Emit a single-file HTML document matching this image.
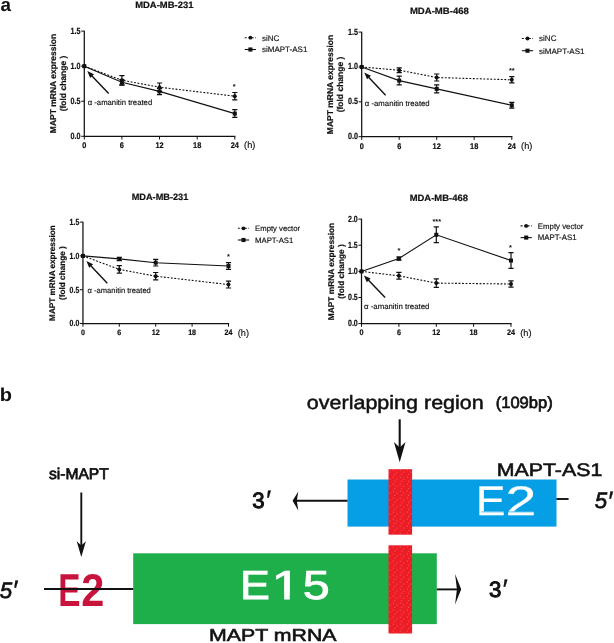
<!DOCTYPE html>
<html><head><meta charset="utf-8"><title>MAPT-AS1 figure</title>
<style>
html,body{margin:0;padding:0;background:#fff;}
body{width:614px;height:643px;overflow:hidden;font-family:"Liberation Sans",sans-serif;}
svg{display:block}
text{font-family:"Liberation Sans",sans-serif;fill:#111;text-rendering:geometricPrecision}
.tk{font-size:7.7px;font-weight:bold;stroke:#111;stroke-width:0.2px}
.tt{font-size:9.2px;font-weight:bold;stroke:#111;stroke-width:0.2px}
.yl{font-size:8.5px;font-weight:bold;stroke:#111;stroke-width:0.2px}
.lg{font-size:7.8px;stroke:#111;stroke-width:0.15px}
.st{font-size:7.4px;font-weight:bold}
.sb{stroke:#111;stroke-width:0.7px}
.rb{stroke:#111;stroke-width:0.35px}
</style></head><body>
<svg width="614" height="643" viewBox="0 0 614 643">
<defs>
<pattern id="dots" patternUnits="userSpaceOnUse" width="7" height="7"><rect x="0.8" y="0.6" width="1" height="1" fill="#d7a3b0" opacity="0.55"/><rect x="4.3" y="2.6" width="1" height="1" fill="#d7a3b0" opacity="0.55"/><rect x="2.2" y="4.9" width="1" height="1" fill="#d7a3b0" opacity="0.55"/></pattern>
</defs>
<rect width="614" height="643" fill="#fff"/>

<text x="0.6" y="10.6" style="font-size:18.8px;font-weight:bold">a</text>
<text x="-0.3" y="401.2" textLength="12.2" lengthAdjust="spacingAndGlyphs" style="font-size:18.6px;font-weight:bold">b</text>
<path d="M84.3 30.700000000000003V136.3H235.4" fill="none" stroke="#111" stroke-width="1.25"/>
<path d="M81.20 136.30H84.3" stroke="#111" stroke-width="1"/>
<text x="70.61" y="138.70" textLength="9.99" lengthAdjust="spacingAndGlyphs" class="tk" style="font-size:9.10px">0.0</text>
<path d="M81.20 101.23H84.3" stroke="#111" stroke-width="1"/>
<text x="70.61" y="103.63" textLength="9.99" lengthAdjust="spacingAndGlyphs" class="tk" style="font-size:9.10px">0.5</text>
<path d="M81.20 66.17H84.3" stroke="#111" stroke-width="1"/>
<text x="70.61" y="68.57" textLength="9.99" lengthAdjust="spacingAndGlyphs" class="tk" style="font-size:9.10px">1.0</text>
<path d="M81.20 31.10H84.3" stroke="#111" stroke-width="1"/>
<text x="70.61" y="33.50" textLength="9.99" lengthAdjust="spacingAndGlyphs" class="tk" style="font-size:9.10px">1.5</text>
<path d="M84.3 136.3V139.50" stroke="#111" stroke-width="1"/>
<text x="82.25" y="148.10" textLength="4.10" lengthAdjust="spacingAndGlyphs" class="tk" style="font-size:8.20px">0</text>
<path d="M121.9 136.3V139.50" stroke="#111" stroke-width="1"/>
<text x="119.85" y="148.10" textLength="4.10" lengthAdjust="spacingAndGlyphs" class="tk" style="font-size:8.20px">6</text>
<path d="M159.5 136.3V139.50" stroke="#111" stroke-width="1"/>
<text x="155.40" y="148.10" textLength="8.21" lengthAdjust="spacingAndGlyphs" class="tk" style="font-size:8.20px">12</text>
<path d="M197.2 136.3V139.50" stroke="#111" stroke-width="1"/>
<text x="193.10" y="148.10" textLength="8.21" lengthAdjust="spacingAndGlyphs" class="tk" style="font-size:8.20px">18</text>
<path d="M234.8 136.3V139.50" stroke="#111" stroke-width="1"/>
<text x="230.70" y="148.10" textLength="8.21" lengthAdjust="spacingAndGlyphs" class="tk" style="font-size:8.20px">24</text>
<text x="244.10000000000002" y="148.3" class="lg" style="font-size:9.2px">(h)</text>
<text x="135.20" y="7.8" textLength="58.2" lengthAdjust="spacingAndGlyphs" class="tt">MDA-MB-231</text>
<text transform="translate(55.6 83.5) rotate(-90)" text-anchor="middle" class="yl" style="font-size:8.50px">MAPT mRNA expression</text>
<text transform="translate(65.6 83.5) rotate(-90)" text-anchor="middle" class="yl" style="font-size:8.50px">(fold change )</text>
<path d="M84.3 66.2L121.9 80.2L159.5 87.2L234.8 96.2" fill="none" stroke="#111" stroke-width="1.1" stroke-dasharray="1.9 1.6"/>
<circle cx="84.3" cy="66.2" r="2.0" fill="#111"/>
<path d="M121.9 75.6V84.8M119.30000000000001 75.6h5.2M119.30000000000001 84.8h5.2" stroke="#111" stroke-width="1.2" fill="none"/>
<circle cx="121.9" cy="80.2" r="2.0" fill="#111"/>
<path d="M159.5 83.0V91.4M156.9 83.0h5.2M156.9 91.4h5.2" stroke="#111" stroke-width="1.2" fill="none"/>
<circle cx="159.5" cy="87.2" r="2.0" fill="#111"/>
<path d="M234.8 92.5V99.8M232.20000000000002 92.5h5.2M232.20000000000002 99.8h5.2" stroke="#111" stroke-width="1.2" fill="none"/>
<circle cx="234.8" cy="96.2" r="2.0" fill="#111"/>
<path d="M84.3 66.2L121.9 82.3L159.5 91.4L234.8 113.6" fill="none" stroke="#111" stroke-width="1.1"/>
<rect x="82.30" y="64.17" width="4" height="4" fill="#111"/>
<path d="M121.9 79.5V85.1M119.30000000000001 79.5h5.2M119.30000000000001 85.1h5.2" stroke="#111" stroke-width="1.2" fill="none"/>
<rect x="119.90" y="80.30" width="4" height="4" fill="#111"/>
<path d="M159.5 88.3V94.6M156.9 88.3h5.2M156.9 94.6h5.2" stroke="#111" stroke-width="1.2" fill="none"/>
<rect x="157.50" y="89.41" width="4" height="4" fill="#111"/>
<path d="M234.8 109.7V117.4M232.20000000000002 109.7h5.2M232.20000000000002 117.4h5.2" stroke="#111" stroke-width="1.2" fill="none"/>
<rect x="232.80" y="111.58" width="4" height="4" fill="#111"/>
<text x="234.3" y="88.7" text-anchor="middle" class="st">*</text>
<path d="M244.8 37.7H256.0" stroke="#111" stroke-width="1.1" stroke-dasharray="1.9 1.6"/>
<circle cx="250.4" cy="37.7" r="1.9" fill="#111"/>
<text x="262.0" y="40.55" class="lg" style="font-size:8.00px">siNC</text>
<path d="M244.8 49.5H256.0" stroke="#111" stroke-width="1.1"/>
<rect x="248.35" y="47.45" width="4.1" height="4.1" fill="#111"/>
<text x="262.0" y="52.35" class="lg" style="font-size:8.00px">siMAPT-AS1</text>
<path d="M108.70 93.60L91.71 75.74" stroke="#111" stroke-width="1.4"/><path d="M87.30 71.10L93.98 74.27L90.14 77.93Z" fill="#111"/>
<text x="87.7" y="105" textLength="64.5" lengthAdjust="spacingAndGlyphs" class="lg" style="font-size:7.75px">α -amanitin treated</text>
<path d="M361.7 31.700000000000003V136.7H512.4" fill="none" stroke="#111" stroke-width="1.25"/>
<path d="M358.60 136.70H361.7" stroke="#111" stroke-width="1"/>
<text x="348.01" y="139.10" textLength="9.99" lengthAdjust="spacingAndGlyphs" class="tk" style="font-size:9.10px">0.0</text>
<path d="M358.60 101.83H361.7" stroke="#111" stroke-width="1"/>
<text x="348.01" y="104.23" textLength="9.99" lengthAdjust="spacingAndGlyphs" class="tk" style="font-size:9.10px">0.5</text>
<path d="M358.60 66.97H361.7" stroke="#111" stroke-width="1"/>
<text x="348.01" y="69.37" textLength="9.99" lengthAdjust="spacingAndGlyphs" class="tk" style="font-size:9.10px">1.0</text>
<path d="M358.60 32.10H361.7" stroke="#111" stroke-width="1"/>
<text x="348.01" y="34.50" textLength="9.99" lengthAdjust="spacingAndGlyphs" class="tk" style="font-size:9.10px">1.5</text>
<path d="M361.7 136.7V139.90" stroke="#111" stroke-width="1"/>
<text x="359.65" y="148.50" textLength="4.10" lengthAdjust="spacingAndGlyphs" class="tk" style="font-size:8.20px">0</text>
<path d="M399.2 136.7V139.90" stroke="#111" stroke-width="1"/>
<text x="397.15" y="148.50" textLength="4.10" lengthAdjust="spacingAndGlyphs" class="tk" style="font-size:8.20px">6</text>
<path d="M436.7 136.7V139.90" stroke="#111" stroke-width="1"/>
<text x="432.60" y="148.50" textLength="8.21" lengthAdjust="spacingAndGlyphs" class="tk" style="font-size:8.20px">12</text>
<path d="M474.2 136.7V139.90" stroke="#111" stroke-width="1"/>
<text x="470.10" y="148.50" textLength="8.21" lengthAdjust="spacingAndGlyphs" class="tk" style="font-size:8.20px">18</text>
<path d="M511.8 136.7V139.90" stroke="#111" stroke-width="1"/>
<text x="507.70" y="148.50" textLength="8.21" lengthAdjust="spacingAndGlyphs" class="tk" style="font-size:8.20px">24</text>
<text x="521.1" y="148.7" class="lg" style="font-size:9.2px">(h)</text>
<text x="409.90" y="13.7" textLength="59" lengthAdjust="spacingAndGlyphs" class="tt">MDA-MB-468</text>
<text transform="translate(333.0 84.5) rotate(-90)" text-anchor="middle" class="yl" style="font-size:8.50px">MAPT mRNA expression</text>
<text transform="translate(343.0 84.5) rotate(-90)" text-anchor="middle" class="yl" style="font-size:8.50px">(fold change )</text>
<path d="M361.7 67.0L399.2 70.2L436.7 77.5L511.8 79.8" fill="none" stroke="#111" stroke-width="1.1" stroke-dasharray="1.9 1.6"/>
<circle cx="361.7" cy="67.0" r="2.0" fill="#111"/>
<path d="M399.2 67.8V72.7M396.59999999999997 67.8h5.2M396.59999999999997 72.7h5.2" stroke="#111" stroke-width="1.2" fill="none"/>
<circle cx="399.2" cy="70.2" r="2.0" fill="#111"/>
<path d="M436.7 74.0V81.0M434.09999999999997 74.0h5.2M434.09999999999997 81.0h5.2" stroke="#111" stroke-width="1.2" fill="none"/>
<circle cx="436.7" cy="77.5" r="2.0" fill="#111"/>
<path d="M511.8 76.7V82.9M509.2 76.7h5.2M509.2 82.9h5.2" stroke="#111" stroke-width="1.2" fill="none"/>
<circle cx="511.8" cy="79.8" r="2.0" fill="#111"/>
<path d="M361.7 67.0L399.2 80.6L436.7 88.9L511.8 105.3" fill="none" stroke="#111" stroke-width="1.1"/>
<rect x="359.70" y="64.97" width="4" height="4" fill="#111"/>
<path d="M399.2 76.2V84.9M396.59999999999997 76.2h5.2M396.59999999999997 84.9h5.2" stroke="#111" stroke-width="1.2" fill="none"/>
<rect x="397.20" y="78.56" width="4" height="4" fill="#111"/>
<path d="M436.7 84.9V92.8M434.09999999999997 84.9h5.2M434.09999999999997 92.8h5.2" stroke="#111" stroke-width="1.2" fill="none"/>
<rect x="434.70" y="86.86" width="4" height="4" fill="#111"/>
<path d="M511.8 102.4V108.2M509.2 102.4h5.2M509.2 108.2h5.2" stroke="#111" stroke-width="1.2" fill="none"/>
<rect x="509.80" y="103.32" width="4" height="4" fill="#111"/>
<text x="511.8" y="73" text-anchor="middle" class="st">**</text>
<path d="M521.9 38.5H533.1" stroke="#111" stroke-width="1.1" stroke-dasharray="1.9 1.6"/>
<circle cx="527.5" cy="38.5" r="1.9" fill="#111"/>
<text x="539.1" y="41.35" class="lg" style="font-size:8.00px">siNC</text>
<path d="M521.9 50.7H533.1" stroke="#111" stroke-width="1.1"/>
<rect x="525.45" y="48.65" width="4.1" height="4.1" fill="#111"/>
<text x="539.1" y="53.55" class="lg" style="font-size:8.00px">siMAPT-AS1</text>
<path d="M385.60 95.20L368.63 77.16" stroke="#111" stroke-width="1.4"/><path d="M364.25 72.50L370.91 75.71L367.05 79.34Z" fill="#111"/>
<text x="364.8" y="105.5" textLength="64.9" lengthAdjust="spacingAndGlyphs" class="lg" style="font-size:7.75px">α -amanitin treated</text>
<path d="M82.95 221.7V323.5H229.1" fill="none" stroke="#111" stroke-width="1.25"/>
<path d="M79.85 323.50H82.95" stroke="#111" stroke-width="1"/>
<text x="69.61" y="326.32" textLength="9.64" lengthAdjust="spacingAndGlyphs" class="tk" style="font-size:8.78px">0.0</text>
<path d="M79.85 289.70H82.95" stroke="#111" stroke-width="1"/>
<text x="69.61" y="292.52" textLength="9.64" lengthAdjust="spacingAndGlyphs" class="tk" style="font-size:8.78px">0.5</text>
<path d="M79.85 255.90H82.95" stroke="#111" stroke-width="1"/>
<text x="69.61" y="258.72" textLength="9.64" lengthAdjust="spacingAndGlyphs" class="tk" style="font-size:8.78px">1.0</text>
<path d="M79.85 222.10H82.95" stroke="#111" stroke-width="1"/>
<text x="69.61" y="224.92" textLength="9.64" lengthAdjust="spacingAndGlyphs" class="tk" style="font-size:8.78px">1.5</text>
<path d="M82.95 323.5V326.70" stroke="#111" stroke-width="1"/>
<text x="80.97" y="335.30" textLength="3.96" lengthAdjust="spacingAndGlyphs" class="tk" style="font-size:7.91px">0</text>
<path d="M119.3 323.5V326.70" stroke="#111" stroke-width="1"/>
<text x="117.32" y="335.30" textLength="3.96" lengthAdjust="spacingAndGlyphs" class="tk" style="font-size:7.91px">6</text>
<path d="M155.7 323.5V326.70" stroke="#111" stroke-width="1"/>
<text x="151.74" y="335.30" textLength="7.92" lengthAdjust="spacingAndGlyphs" class="tk" style="font-size:7.91px">12</text>
<path d="M192.1 323.5V326.70" stroke="#111" stroke-width="1"/>
<text x="188.14" y="335.30" textLength="7.92" lengthAdjust="spacingAndGlyphs" class="tk" style="font-size:7.91px">18</text>
<path d="M228.5 323.5V326.70" stroke="#111" stroke-width="1"/>
<text x="224.54" y="335.30" textLength="7.92" lengthAdjust="spacingAndGlyphs" class="tk" style="font-size:7.91px">24</text>
<text x="237.8" y="335.5" class="lg" style="font-size:9.2px">(h)</text>
<text x="131.65" y="199.5" textLength="56.7" lengthAdjust="spacingAndGlyphs" class="tt">MDA-MB-231</text>
<text transform="translate(55.4 273.1) rotate(-90)" text-anchor="middle" class="yl" style="font-size:8.20px">MAPT mRNA expression</text>
<text transform="translate(65.4 273.1) rotate(-90)" text-anchor="middle" class="yl" style="font-size:8.20px">(fold change )</text>
<path d="M83.0 255.9L119.3 269.4L155.7 276.2L228.5 284.6" fill="none" stroke="#111" stroke-width="1.1" stroke-dasharray="1.9 1.6"/>
<circle cx="83.0" cy="255.9" r="2.0" fill="#111"/>
<path d="M119.3 265.7V273.1M116.7 265.7h5.2M116.7 273.1h5.2" stroke="#111" stroke-width="1.2" fill="none"/>
<circle cx="119.3" cy="269.4" r="2.0" fill="#111"/>
<path d="M155.7 272.5V279.9M153.1 272.5h5.2M153.1 279.9h5.2" stroke="#111" stroke-width="1.2" fill="none"/>
<circle cx="155.7" cy="276.2" r="2.0" fill="#111"/>
<path d="M228.5 281.2V288.0M225.9 281.2h5.2M225.9 288.0h5.2" stroke="#111" stroke-width="1.2" fill="none"/>
<circle cx="228.5" cy="284.6" r="2.0" fill="#111"/>
<path d="M83.0 255.9L119.3 258.9L155.7 262.7L228.5 266.0" fill="none" stroke="#111" stroke-width="1.1"/>
<rect x="80.95" y="253.90" width="4" height="4" fill="#111"/>
<path d="M119.3 257.3V260.6M116.7 257.3h5.2M116.7 260.6h5.2" stroke="#111" stroke-width="1.2" fill="none"/>
<rect x="117.30" y="256.94" width="4" height="4" fill="#111"/>
<path d="M155.7 259.3V266.0M153.1 259.3h5.2M153.1 266.0h5.2" stroke="#111" stroke-width="1.2" fill="none"/>
<rect x="153.70" y="260.66" width="4" height="4" fill="#111"/>
<path d="M228.5 262.7V269.4M225.9 262.7h5.2M225.9 269.4h5.2" stroke="#111" stroke-width="1.2" fill="none"/>
<rect x="226.50" y="264.04" width="4" height="4" fill="#111"/>
<text x="228.4" y="258.9" text-anchor="middle" class="st">*</text>
<path d="M237.9 228.3H249.1" stroke="#111" stroke-width="1.1" stroke-dasharray="1.9 1.6"/>
<circle cx="243.5" cy="228.3" r="1.9" fill="#111"/>
<text x="255.1" y="231.15" class="lg" style="font-size:7.72px">Empty vector</text>
<path d="M237.9 240.0H249.1" stroke="#111" stroke-width="1.1"/>
<rect x="241.45" y="237.95" width="4.1" height="4.1" fill="#111"/>
<text x="255.1" y="242.85" class="lg" style="font-size:7.72px">MAPT-AS1</text>
<path d="M107.30 283.20L90.79 265.66" stroke="#111" stroke-width="1.4"/><path d="M86.40 261.00L93.06 264.21L89.20 267.84Z" fill="#111"/>
<text x="87.6" y="292.5" textLength="63.2" lengthAdjust="spacingAndGlyphs" class="lg" style="font-size:7.75px">α -amanitin treated</text>
<path d="M361.5 218.7V323.6H511.6" fill="none" stroke="#111" stroke-width="1.25"/>
<path d="M358.40 323.60H361.5" stroke="#111" stroke-width="1"/>
<text x="348.01" y="326.24" textLength="9.79" lengthAdjust="spacingAndGlyphs" class="tk" style="font-size:8.92px">0.0</text>
<path d="M358.40 297.48H361.5" stroke="#111" stroke-width="1"/>
<text x="348.01" y="300.12" textLength="9.79" lengthAdjust="spacingAndGlyphs" class="tk" style="font-size:8.92px">0.5</text>
<path d="M358.40 271.35H361.5" stroke="#111" stroke-width="1"/>
<text x="348.01" y="273.99" textLength="9.79" lengthAdjust="spacingAndGlyphs" class="tk" style="font-size:8.92px">1.0</text>
<path d="M358.40 245.22H361.5" stroke="#111" stroke-width="1"/>
<text x="348.01" y="247.87" textLength="9.79" lengthAdjust="spacingAndGlyphs" class="tk" style="font-size:8.92px">1.5</text>
<path d="M358.40 219.10H361.5" stroke="#111" stroke-width="1"/>
<text x="348.01" y="221.74" textLength="9.79" lengthAdjust="spacingAndGlyphs" class="tk" style="font-size:8.92px">2.0</text>
<path d="M361.5 323.6V326.80" stroke="#111" stroke-width="1"/>
<text x="359.49" y="335.40" textLength="4.02" lengthAdjust="spacingAndGlyphs" class="tk" style="font-size:8.04px">0</text>
<path d="M398.9 323.6V326.80" stroke="#111" stroke-width="1"/>
<text x="396.89" y="335.40" textLength="4.02" lengthAdjust="spacingAndGlyphs" class="tk" style="font-size:8.04px">6</text>
<path d="M436.3 323.6V326.80" stroke="#111" stroke-width="1"/>
<text x="432.28" y="335.40" textLength="8.04" lengthAdjust="spacingAndGlyphs" class="tk" style="font-size:8.04px">12</text>
<path d="M473.6 323.6V326.80" stroke="#111" stroke-width="1"/>
<text x="469.58" y="335.40" textLength="8.04" lengthAdjust="spacingAndGlyphs" class="tk" style="font-size:8.04px">18</text>
<path d="M511.0 323.6V326.80" stroke="#111" stroke-width="1"/>
<text x="506.98" y="335.40" textLength="8.04" lengthAdjust="spacingAndGlyphs" class="tk" style="font-size:8.04px">24</text>
<text x="520.3" y="335.6" class="lg" style="font-size:9.2px">(h)</text>
<text x="409.70" y="200.5" textLength="58.2" lengthAdjust="spacingAndGlyphs" class="tt">MDA-MB-468</text>
<text transform="translate(333.7 271.5) rotate(-90)" text-anchor="middle" class="yl" style="font-size:8.33px">MAPT mRNA expression</text>
<text transform="translate(343.7 271.5) rotate(-90)" text-anchor="middle" class="yl" style="font-size:8.33px">(fold change )</text>
<path d="M361.5 271.4L398.9 275.8L436.3 283.1L511.0 284.0" fill="none" stroke="#111" stroke-width="1.1" stroke-dasharray="1.9 1.6"/>
<circle cx="361.5" cy="271.4" r="2.0" fill="#111"/>
<path d="M398.9 272.4V279.2M396.29999999999995 272.4h5.2M396.29999999999995 279.2h5.2" stroke="#111" stroke-width="1.2" fill="none"/>
<circle cx="398.9" cy="275.8" r="2.0" fill="#111"/>
<path d="M436.3 278.8V287.4M433.7 278.8h5.2M433.7 287.4h5.2" stroke="#111" stroke-width="1.2" fill="none"/>
<circle cx="436.3" cy="283.1" r="2.0" fill="#111"/>
<path d="M511.0 280.8V287.2M508.4 280.8h5.2M508.4 287.2h5.2" stroke="#111" stroke-width="1.2" fill="none"/>
<circle cx="511.0" cy="284.0" r="2.0" fill="#111"/>
<path d="M361.5 271.4L398.9 258.5L436.3 234.8L511.0 260.5" fill="none" stroke="#111" stroke-width="1.1"/>
<rect x="359.50" y="269.35" width="4" height="4" fill="#111"/>
<path d="M398.9 257.0V260.1M396.29999999999995 257.0h5.2M396.29999999999995 260.1h5.2" stroke="#111" stroke-width="1.2" fill="none"/>
<rect x="396.90" y="256.55" width="4" height="4" fill="#111"/>
<path d="M436.3 226.9V242.6M433.7 226.9h5.2M433.7 242.6h5.2" stroke="#111" stroke-width="1.2" fill="none"/>
<rect x="434.30" y="232.78" width="4" height="4" fill="#111"/>
<path d="M511.0 252.7V268.3M508.4 252.7h5.2M508.4 268.3h5.2" stroke="#111" stroke-width="1.2" fill="none"/>
<rect x="509.00" y="258.53" width="4" height="4" fill="#111"/>
<text x="399" y="252.7" text-anchor="middle" class="st">*</text>
<text x="436.7" y="223.8" text-anchor="middle" class="st">***</text>
<text x="510.4" y="250.4" text-anchor="middle" class="st">*</text>
<path d="M520.6 225.9H531.8000000000001" stroke="#111" stroke-width="1.1" stroke-dasharray="1.9 1.6"/>
<circle cx="526.2" cy="225.9" r="1.9" fill="#111"/>
<text x="537.8000000000001" y="228.75" class="lg" style="font-size:7.84px">Empty vector</text>
<path d="M520.6 237.6H531.8000000000001" stroke="#111" stroke-width="1.1"/>
<rect x="524.15" y="235.55" width="4.1" height="4.1" fill="#111"/>
<text x="537.8000000000001" y="240.45" class="lg" style="font-size:7.84px">MAPT-AS1</text>
<path d="M385.10 297.50L368.33 280.02" stroke="#111" stroke-width="1.4"/><path d="M363.90 275.40L370.59 278.54L366.76 282.21Z" fill="#111"/>
<text x="364" y="308.6" textLength="65.4" lengthAdjust="spacingAndGlyphs" class="lg" style="font-size:7.75px">α -amanitin treated</text>

<g id="panelb">
<rect x="347.5" y="479.5" width="209" height="47.1" fill="#069fe6"/>
<rect x="133.2" y="553.3" width="303.6" height="70.8" fill="#1eaf4b"/>
<rect x="388.5" y="469.2" width="23.6" height="65.5" fill="#ee1c25"/>
<rect x="388.5" y="545.3" width="23.6" height="88.2" fill="#ee1c25"/>
<rect x="388.5" y="469.2" width="23.6" height="65.5" fill="url(#dots)"/>
<rect x="388.5" y="545.3" width="23.6" height="88.2" fill="url(#dots)"/>

<text y="605.8" style="font-size:46.0px;fill:#c8143c;font-weight:bold"><tspan x="58.17" textLength="22.23" lengthAdjust="spacingAndGlyphs">E</tspan><tspan x="81.26" textLength="23.1" lengthAdjust="spacingAndGlyphs">2</tspan></text>
<text y="599.4" style="font-size:40.6px;fill:#fff;stroke:#fff;stroke-width:0.8px"><tspan x="240.12" textLength="29.9" lengthAdjust="spacingAndGlyphs">E</tspan><tspan x="271.72" textLength="28.68" lengthAdjust="spacingAndGlyphs">1</tspan><tspan x="302.86" textLength="26.98" lengthAdjust="spacingAndGlyphs">5</tspan></text>
<path d="M273 595H284.18V601H273ZM289.75 595H300V601H289.75Z" fill="#1eaf4b"/>
<text y="515.35" style="font-size:41.3px;fill:#fff;stroke:#fff;stroke-width:0.3px"><tspan x="475.93" textLength="29.41" lengthAdjust="spacingAndGlyphs">E</tspan><tspan x="505.57" textLength="30.76" lengthAdjust="spacingAndGlyphs">2</tspan></text>

<path d="M481.5 511.9H533.7" stroke="#069fe6" stroke-width="0.8" opacity="0.85"/>
<path d="M44 589H133.2" stroke="#111" stroke-width="1.9"/>
<path d="M436.8 589.4H458" stroke="#111" stroke-width="1.9"/>
<path d="M461.2 589.3L455.1 574L456.9 589.3L455.1 604.6Z" fill="#111"/>
<path d="M347.5 500.7H296" stroke="#111" stroke-width="1.9"/>
<path d="M292.6 500.8L298.3 491.4L296.8 500.8L298.3 510.6Z" fill="#111"/>
<path d="M556.4 499H568.6" stroke="#111" stroke-width="1.9"/>
<path d="M81.3 492.5V548" stroke="#111" stroke-width="1.9"/>
<path d="M81.3 557L76.7 541.3L81.3 545.5L85.9 541.3Z" fill="#111"/>
<path d="M399.7 419.3V452" stroke="#111" stroke-width="2.1"/>
<path d="M399.7 462.2L393.9 442L399.7 447.5L405.5 442Z" fill="#111"/>
<text x="48.9" y="479.3" textLength="59.9" lengthAdjust="spacingAndGlyphs" class="sb" style="font-size:15.6px;stroke-width:0.75px">si-MAPT</text>
<text x="-0.3" y="598" class="sb" style="font-size:22.3px;font-style:italic">5<tspan dy="2.1" style="font-size:28px;font-style:italic;stroke-width:0.3px">′</tspan></text>
<text x="594.7" y="508.4" class="sb" style="font-size:22.3px;font-style:italic">5<tspan dy="2.1" style="font-size:28px;font-style:italic;stroke-width:0.3px">′</tspan></text>
<text x="252.3" y="508.3" class="sb" style="font-size:22.2px;stroke-width:1px">3<tspan dy="2.1" style="font-size:28px;font-style:italic;stroke-width:0.3px">′</tspan></text>
<text x="488.9" y="597" class="sb" style="font-size:22.2px;stroke-width:1px">3<tspan dy="2.1" style="font-size:28px;font-style:italic;stroke-width:0.3px">′</tspan></text>
<text x="209.1" y="641.3" textLength="127.4" lengthAdjust="spacingAndGlyphs" class="rb" style="font-size:17.2px;stroke-width:0.6px">MAPT mRNA</text>
<text x="496.7" y="475.6" textLength="105.6" lengthAdjust="spacingAndGlyphs" class="rb" style="font-size:18.2px;stroke-width:0.55px">MAPT-AS1</text>
<text x="306.8" y="408.7" textLength="177" lengthAdjust="spacingAndGlyphs" class="rb" style="font-size:19.2px;stroke-width:0.5px">overlapping region</text>
<text x="495.7" y="407.9" textLength="57" lengthAdjust="spacingAndGlyphs" class="sb" style="font-size:16.2px;stroke-width:0.7px">(109bp)</text>
</g>

</svg></body></html>
